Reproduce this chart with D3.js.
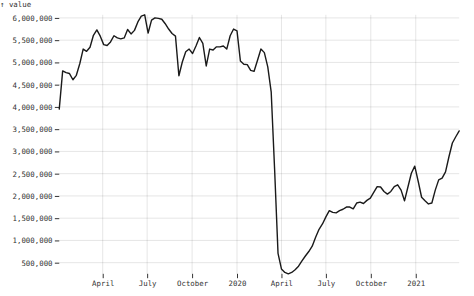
<html><head><meta charset="utf-8">
    <style>
        body {
            margin: 0;
            background: white;
        }

        svg {
            display: block;
            font-family: "DejaVu Sans Mono", monospace;
            font-size: 7.4px;
        }
    </style>
</head>

<script src="https://d3js.org/d3.v7.min.js"></script>

<body>
    <svg id="Chart"></svg>
</body>

<script>
    // first week of the series, then one value per week (millions)
    let startDate = "2019-01-02";
    let values = [
        3.95, 4.81, 4.77, 4.75, 4.61, 4.71, 4.97, 5.30, 5.25, 5.34,
        5.61, 5.73, 5.59, 5.40, 5.38, 5.46, 5.60, 5.55, 5.53, 5.55,
        5.74, 5.64, 5.72, 5.91, 6.04, 6.07, 5.66, 5.95, 6.00, 5.99,
        5.97, 5.87, 5.75, 5.65, 5.59, 4.70, 5.01, 5.24, 5.30, 5.20,
        5.37, 5.56, 5.43, 4.92, 5.30, 5.28, 5.35, 5.35, 5.37, 5.30,
        5.60, 5.75, 5.71, 5.03, 4.96, 4.95, 4.82, 4.80, 5.05, 5.30,
        5.22, 4.90, 4.34, 2.60, 0.71, 0.36, 0.28, 0.25, 0.28, 0.34,
        0.42, 0.54, 0.65, 0.75, 0.87, 1.07, 1.25, 1.37, 1.53, 1.67,
        1.63, 1.62, 1.67, 1.70, 1.75, 1.75, 1.71, 1.84, 1.86, 1.83,
        1.90, 1.95, 2.08, 2.21, 2.20, 2.10, 2.04, 2.10, 2.21, 2.25,
        2.13, 1.89, 2.20, 2.51, 2.67, 2.33, 1.97, 1.89, 1.82, 1.84,
        2.13, 2.36, 2.40, 2.54, 2.88, 3.19, 3.33, 3.46
    ];
    let yTicks = [500000, 1000000, 1500000, 2000000, 2500000, 3000000,
        3500000, 4000000, 4500000, 5000000, 5500000, 6000000];
    let xTickDates = ["2019-04-01", "2019-07-01", "2019-10-01", "2020-01-01",
        "2020-04-01", "2020-07-01", "2020-10-01", "2021-01-01"];
    let xTickLabels = ["April", "July", "October", "2020", "April", "July", "October", "2021"];
    let yLabel = "↑ value";

    function getData() {
        let start = d3.isoParse(startDate + "T00:00:00");
        return values.map((v, i) => ({
            date: d3.timeDay.offset(start, i * 7),
            value: v * 1e6
        }));
    }

    function getConfig() {
        let width = 474;
        let height = 296;
        let margin = { top: 14.8, right: 14.8, bottom: 22.2, left: 59.25 };
        let container = d3.select("#Chart")
            .attr("width", width)
            .attr("height", height);
        return { width, height, margin, container };
    }

    function getScales(data, config) {
        let { width, height, margin } = config;
        let xScale = d3.scaleUtc()
            .domain(d3.extent(data, d => d.date))
            .range([margin.left, width - margin.right]);
        let yScale = d3.scaleLinear()
            .domain(d3.extent(data, d => d.value))
            .range([height - margin.bottom, margin.top]);
        return { xScale, yScale };
    }

    function drawGrid(scales, config) {
        let { xScale, yScale } = scales;
        let { container, margin, width, height } = config;
        let grid = container.append("g")
            .attr("stroke", "#000")
            .attr("stroke-opacity", 0.1);

        grid.selectAll(".gx").data(xTickDates)
            .enter().append("line")
            .attr("x1", d => xScale(new Date(d + "T00:00:00")))
            .attr("x2", d => xScale(new Date(d + "T00:00:00")))
            .attr("y1", margin.top)
            .attr("y2", height - margin.bottom);

        grid.selectAll(".gy").data(yTicks)
            .enter().append("line")
            .attr("x1", margin.left)
            .attr("x2", width - margin.right)
            .attr("y1", d => yScale(d))
            .attr("y2", d => yScale(d));
    }

    function drawAxes(scales, config) {
        let { xScale, yScale } = scales;
        let { container, margin, height } = config;
        let fmt = d3.format(",");

        let axisY = d3.axisLeft(yScale)
            .tickValues(yTicks)
            .tickFormat(fmt)
            .tickSize(4.4)
            .tickPadding(2.3);
        let gy = container.append("g")
            .attr("transform", `translate(${margin.left},0)`)
            .call(axisY);
        gy.select(".domain").remove();

        let xDates = xTickDates.map(d => new Date(d + "T00:00:00"));
        let axisX = d3.axisBottom(xScale)
            .tickValues(xDates)
            .tickFormat((d, i) => xTickLabels[i])
            .tickSize(4.4)
            .tickPadding(2.3);
        let gx = container.append("g")
            .attr("transform", `translate(0,${height - margin.bottom})`)
            .call(axisX);
        gx.select(".domain").remove();

        container.selectAll(".tick text")
            .attr("fill", "#333")
            .style("font-family", "DejaVu Sans Mono, monospace")
            .style("font-size", "7.4px");
        container.selectAll(".tick line").attr("stroke", "#333");

        container.append("text")
            .attr("x", 0)
            .attr("y", 5)
            .attr("dy", "0.32em")
            .attr("fill", "#333")
            .text(yLabel);
    }

    function drawLine(data, scales, config) {
        let { xScale, yScale } = scales;
        let line = d3.line()
            .x(d => xScale(d.date))
            .y(d => yScale(d.value));
        config.container.append("path")
            .datum(data)
            .attr("d", line)
            .attr("fill", "none")
            .attr("stroke", "#1a1a1a")
            .attr("stroke-width", 1.4)
            .attr("stroke-linejoin", "round")
            .attr("stroke-linecap", "round");
    }

    let data = getData();
    let config = getConfig();
    let scales = getScales(data, config);
    drawGrid(scales, config);
    drawAxes(scales, config);
    drawLine(data, scales, config);
</script>

</html>
